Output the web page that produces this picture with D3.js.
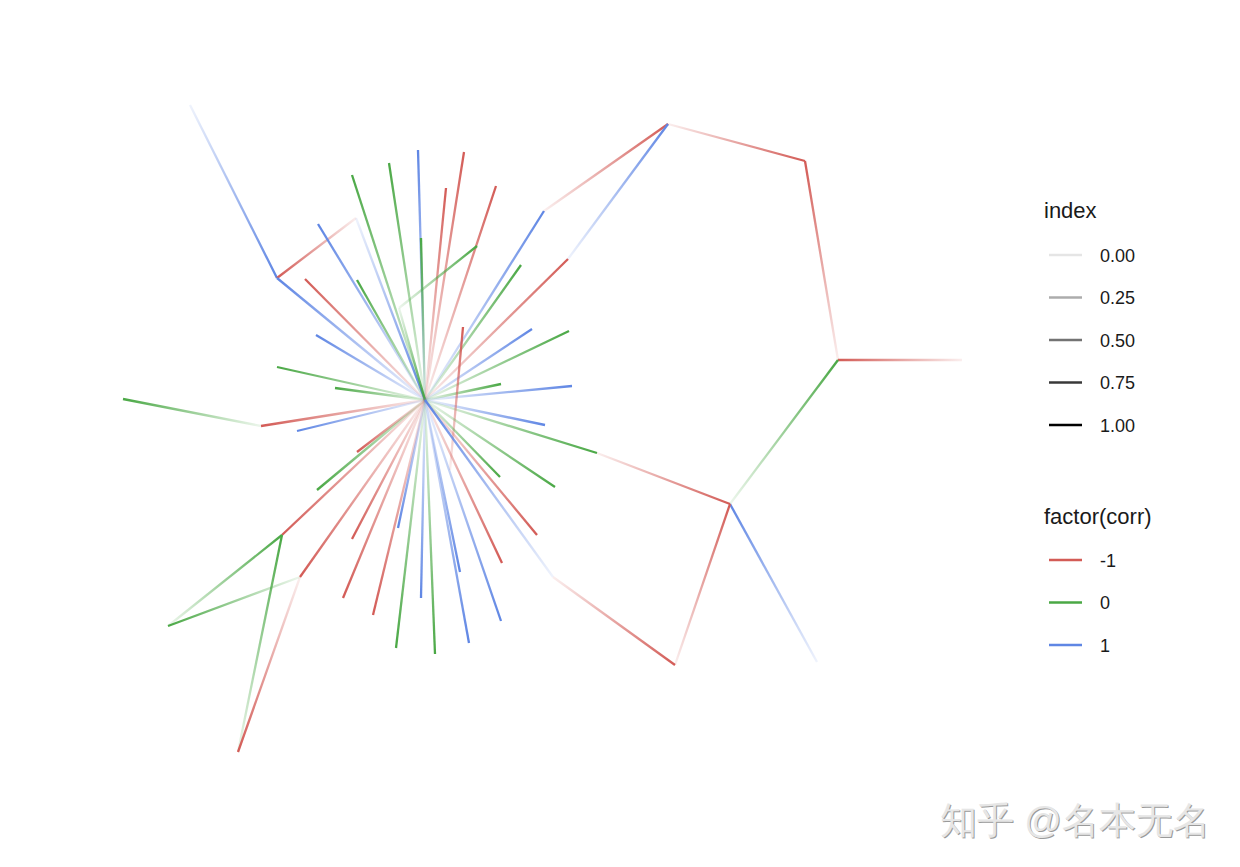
<!DOCTYPE html>
<html>
<head>
<meta charset="utf-8">
<script src="https://cdn.jsdelivr.net/npm/d3@7"></script>
<style>
  body { margin: 0; background: #fff; }
  text { font-family: "Liberation Sans", Arial, sans-serif; }
</style>
</head>
<body>
<div id="chart"></div>
<script>
// layout coordinates of the nodes (0 = hub)
const nodeX = [0, -2.35, -1.48, -0.69, -0.07, -0.04, 0.39, 0.21, 0.71, -0.36, -0.73, -1.07, -0.26, 0.52, -0.68, -1.20,
  1.19, 0.96, 1.43, 1.07, 1.44, 0.76, 1.47, 1.20, 1.72, -1.09, -1.48, -0.90, -3.02, -1.64, -1.28, 0.38, 0.25, -0.68,
  -1.08, -1.43, -2.57, -1.25, -1.87, -0.73, -0.82, -0.52, -0.27, -0.29, -0.04, 0.10, 0.35, 0.44, 0.76, 0.77, 1.12,
  0.75, 1.30, 1.28, 2.43, 3.80, 4.13, 5.37, 3.05, 2.50, 3.92];
const nodeY = [0, 2.95, 1.22, 1.82, 2.50, 1.62, 2.48, 2.12, 2.14, 2.37, 2.25, 1.76, 0.92, 1.54, 1.20, 1.21,
  1.89, 1.35, 1.41, 0.71, 0.69, 0.16, 0.14, -0.25, -0.53, 0.65, 0.33, 0.12, 0.01, -0.26, -0.31, 0.73, -0.70, -0.52,
  -0.90, -1.35, -2.26, -1.77, -3.52, -1.39, -1.98, -2.15, -1.28, -2.48, -1.98, -2.54, -1.72, -2.43, -2.21, -1.63, -1.35,
  -0.77, -0.87, -1.77, 2.76, 2.39, 0.40, 0.40, -1.04, -2.65, -2.62];

// edges: from, to, corr
const edgeFrom = [1, 3, 0, 3, 0, 0, 0, 0, 0, 0, 0, 0, 12, 12, 0, 0, 0, 16, 0, 0, 18, 0, 0, 0, 0, 0, 0, 24, 0, 0, 0, 29, 0, 0,
  32, 0, 0, 0, 36, 37, 38, 0, 37, 0, 0, 0, 0, 0, 0, 0, 0, 0, 0, 0, 0, 0, 0, 53, 53, 54, 56, 57, 58, 60, 59];
const edgeTo = [2, 2, 2, 0, 4, 5, 6, 7, 8, 9, 10, 11, 13, 0, 14, 15, 16, 54, 17, 18, 54, 19, 20, 21, 22, 23, 24, 58, 25, 26, 27, 28, 29, 30,
  31, 33, 34, 35, 35, 36, 35, 37, 38, 39, 40, 41, 42, 43, 44, 45, 46, 47, 48, 49, 50, 51, 52, 0, 59, 55, 55, 56, 56, 58, 58];
const edgeCorr = [1, -1, 1, 1, 1, 0, -1, -1, -1, 0, 0, 1, 0, 0, 0, -1, 1, -1, 0, -1, 1, 1, 0, 0, 1, 1, 0, -1, 1, 0, 0, 0, -1, 1,
  -1, -1, 0, -1, 0, 0, 0, -1, -1, -1, -1, -1, 1, 0, 1, 0, 1, 1, 1, -1, -1, 0, 0, 1, -1, -1, -1, -1, 0, 1, -1];

const corrLevels = ["-1", "0", "1"];
const corrColors = ["#d35b56", "#4aa845", "#5f86e4"];
const indexBreaks = [0, 0.25, 0.5, 0.75, 1];
const indexLabels = ["0.00", "0.25", "0.50", "0.75", "1.00"];

const width = 1240, height = 867;

const svg = d3.select("#chart")
  .append("svg")
  .attr("width", width)
  .attr("height", height);

svg.append("rect").attr("width", width).attr("height", height).attr("fill", "#fff");

const x = d3.scaleLinear().domain(d3.extent(nodeX)).range([123, 962]);
const y = d3.scaleLinear().domain(d3.extent(nodeY)).range([752, 105]);
const color = d3.scaleOrdinal().domain(corrLevels).range(corrColors);
const alpha = d3.scaleLinear().domain([0, 1]).range([0.1, 1]);

const edges = edgeFrom.map((f, i) => ({
  id: "g" + i,
  x1: x(nodeX[f]), y1: y(nodeY[f]),
  x2: x(nodeX[edgeTo[i]]), y2: y(nodeY[edgeTo[i]]),
  corr: String(edgeCorr[i])
}));

// one gradient per edge: alpha follows index 0 -> 1 along the edge
const defs = svg.append("defs");
const grads = defs.selectAll("linearGradient")
  .data(edges)
  .enter()
  .append("linearGradient")
  .attr("id", d => d.id)
  .attr("gradientUnits", "userSpaceOnUse")
  .attr("x1", d => d.x1).attr("y1", d => d.y1)
  .attr("x2", d => d.x2).attr("y2", d => d.y2);
grads.append("stop").attr("offset", 0)
  .attr("stop-color", d => color(d.corr)).attr("stop-opacity", alpha(0));
grads.append("stop").attr("offset", 1)
  .attr("stop-color", d => color(d.corr)).attr("stop-opacity", alpha(1));

svg.append("g")
  .selectAll("line")
  .data(edges)
  .enter()
  .append("line")
  .attr("x1", d => d.x1).attr("y1", d => d.y1)
  .attr("x2", d => d.x2).attr("y2", d => d.y2)
  .attr("stroke", d => `url(#${d.id})`)
  .attr("stroke-width", 2.3);

// legends
const lg = svg.append("g").attr("transform", "translate(1044,0)");

lg.append("text").attr("x", 0).attr("y", 218).attr("font-size", 22).attr("fill", "#1a1a1a").text("index");
indexBreaks.forEach((b, i) => {
  const yy = 255 + i * 42.5;
  lg.append("line").attr("x1", 5).attr("x2", 38).attr("y1", yy).attr("y2", yy)
    .attr("stroke", "#000").attr("stroke-opacity", alpha(b)).attr("stroke-width", 2.3);
  lg.append("text").attr("x", 56).attr("y", yy + 6.5).attr("font-size", 18).attr("fill", "#1a1a1a").text(indexLabels[i]);
});

lg.append("text").attr("x", 0).attr("y", 524).attr("font-size", 22).attr("fill", "#1a1a1a").text("factor(corr)");
corrLevels.forEach((c, i) => {
  const yy = 560 + i * 42.5;
  lg.append("line").attr("x1", 5).attr("x2", 38).attr("y1", yy).attr("y2", yy)
    .attr("stroke", color(c)).attr("stroke-width", 2.3);
  lg.append("text").attr("x", 56).attr("y", yy + 6.5).attr("font-size", 18).attr("fill", "#1a1a1a").text(c);
});

// watermark
const wm = svg.append("g").attr("font-family", "'Noto Sans CJK SC', sans-serif").attr("font-size", 37);
wm.append("text").attr("x", 941).attr("y", 834).attr("fill", "#9a9a9a").text("知乎 @名本无名");
wm.append("text").attr("x", 940).attr("y", 833).attr("fill", "#e6e6e6").text("知乎 @名本无名");
</script>
</body>
</html>
